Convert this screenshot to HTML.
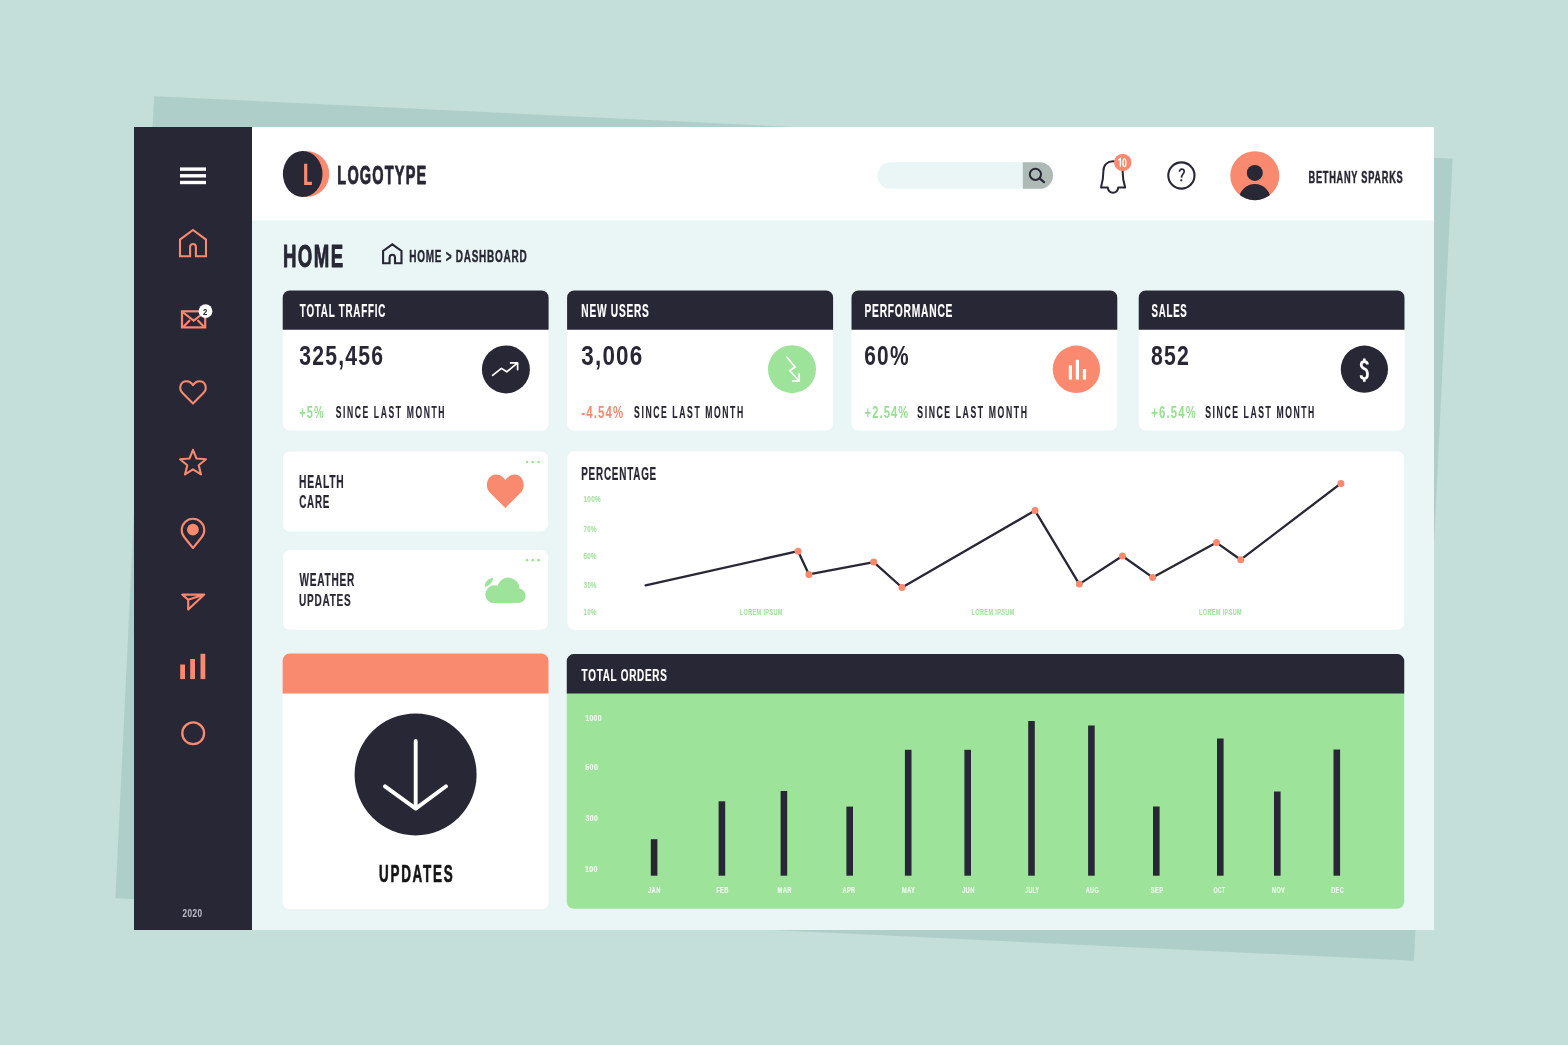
<!DOCTYPE html>
<html><head><meta charset="utf-8"><title>Dashboard</title>
<style>
html,body{margin:0;padding:0;background:#c4ded9;width:1568px;height:1045px;overflow:hidden}
svg{display:block;will-change:transform}
text{font-family:"Liberation Sans",sans-serif}
</style></head><body>
<svg width="1568" height="1045" viewBox="0 0 1568 1045">
<rect width="1568" height="1045" fill="#c4ded9"/>
<rect x="134" y="127" width="1300" height="803" fill="#aecec9" transform="rotate(2.757 784 528.5)"/>
<rect x="134" y="127" width="1300" height="803" fill="#e9f6f5"/>
<rect x="252" y="127" width="1182" height="93.4" fill="#ffffff"/>
<rect x="134" y="127" width="118" height="803" fill="#282735"/>
<rect x="180" y="167.4" width="26" height="3.4" fill="#ffffff"/>
<rect x="180" y="174.1" width="26" height="3.4" fill="#ffffff"/>
<rect x="180" y="180.8" width="26" height="3.4" fill="#ffffff"/>
<path d="M180,256.2 V239.6 L193,230 L206,239.6 V256.2 H195.9 V246.9 A2.9,2.9 0 0 0 190.1,246.9 V256.2 Z" fill="none" stroke="#f9896f" stroke-width="2.1" stroke-linejoin="miter"/>
<rect x="182" y="311.3" width="23.2" height="16.1" fill="none" stroke="#f9896f" stroke-width="2.2"/>
<path d="M182.5,312 L193.7,320.6 L204.8,312 M183.5,326.8 L190,320 M204,326.8 L197.5,320" fill="none" stroke="#f9896f" stroke-width="2.1"/>
<circle cx="205.5" cy="311.2" r="6.9" fill="#ffffff"/>
<text transform="translate(203.050,314.650) scale(0.8039,1)" font-size="9.584" font-weight="bold" letter-spacing="0.508" fill="#282735" stroke="#282735" stroke-width="0.115" stroke-linejoin="round">2</text>
<path d="M193,403.6 L182.6,393 C178.2,388.5 180.4,381.2 186.6,381.2 C189.6,381.2 191.6,383 193,385.2 C194.4,383 196.4,381.2 199.4,381.2 C205.6,381.2 207.8,388.5 203.4,393 Z" fill="none" stroke="#f9896f" stroke-width="2.1" stroke-linejoin="round"/>
<polygon points="193.00,449.80 196.53,458.55 205.93,459.20 198.71,465.25 200.99,474.40 193.00,469.40 185.01,474.40 187.29,465.25 180.07,459.20 189.47,458.55" fill="none" stroke="#f9896f" stroke-width="2.1" stroke-linejoin="round"/>
<path d="M193,548 L184.5,537.5 A11.3,11.3 0 1 1 201.5,537.5 Z" fill="none" stroke="#f9896f" stroke-width="2.1" stroke-linejoin="round"/>
<circle cx="192.9" cy="529.7" r="5.9" fill="#f9896f"/>
<path d="M182.3,594.6 H204.3 L188.2,609.6 V599.8 Z M188.2,599.8 L204.3,594.6" fill="none" stroke="#f9896f" stroke-width="2.1" stroke-linejoin="round"/>
<rect x="180.2" y="664.5" width="4.8" height="14.6" fill="#f9896f"/>
<rect x="190.2" y="659" width="4.8" height="20.1" fill="#f9896f"/>
<rect x="200.5" y="653.8" width="4.8" height="25.3" fill="#f9896f"/>
<circle cx="193.2" cy="733.3" r="10.9" fill="none" stroke="#f9896f" stroke-width="2.3"/>
<text transform="translate(182.450,916.550) scale(0.6999,1)" font-size="11.698" font-weight="bold" letter-spacing="0.712" fill="#b9b9c2" stroke="#b9b9c2" stroke-width="0.140" stroke-linejoin="round">2020</text>
<circle cx="306.3" cy="174" r="23" fill="#f9896f"/>
<ellipse cx="302.7" cy="174" rx="19.8" ry="22.9" fill="#282735"/>
<path d="M304.1,163.8 H307.3 V181.7 H311.9 V184.9 H304.1 Z" fill="#f9896f"/>
<text transform="translate(337.350,183.900) scale(0.5454,1)" font-size="26.621" font-weight="bold" letter-spacing="2.145" fill="#282735" stroke="#282735" stroke-width="0.932" stroke-linejoin="round">LOGOTYPE</text>
<rect x="877.4" y="162.2" width="175.6" height="26.6" rx="13.3" fill="#e9f6f5"/>
<path d="M1022.8,162.2 H1039.7 A13.3,13.3 0 0 1 1039.7,188.8 H1022.8 Z" fill="#aebab5"/>
<circle cx="1035.4" cy="174.3" r="5.6" fill="none" stroke="#282735" stroke-width="2"/>
<path d="M1039.6,178.4 L1044,182.2" stroke="#282735" stroke-width="2.2" stroke-linecap="round"/>
<path d="M1107.8,187.6 H1101 C1102.6,182 1103.4,177 1103.4,171 C1103.4,165 1107.5,161.3 1113,161.3 C1118.5,161.3 1122.6,165 1122.6,171 C1122.6,177 1123.4,182 1125.2,187.6 H1118.2 A5.2,5.2 0 0 1 1107.8,187.6 Z" fill="none" stroke="#282735" stroke-width="2" stroke-linejoin="round"/>
<circle cx="1122.7" cy="162.4" r="8.7" fill="#f9896f"/>
<path d="M1118.3,160.3 L1120.4,158.7 V166.8 M1124.4,158.9 C1122.9,158.9 1122.9,160.2 1122.9,162.8 C1122.9,165.4 1122.9,166.6 1124.4,166.6 C1125.9,166.6 1125.9,165.4 1125.9,162.8 C1125.9,160.2 1125.9,158.9 1124.4,158.9 Z" fill="none" stroke="#ffffff" stroke-width="1.35"/>
<circle cx="1181.4" cy="175.5" r="13.1" fill="none" stroke="#282735" stroke-width="2.1"/>
<path d="M1179.5,171.7 C1179.3,168.4 1184.3,168.2 1184.2,171.5 C1184.1,173.8 1181.6,174.6 1181.5,177.6" fill="none" stroke="#282735" stroke-width="1.7" stroke-linecap="butt"/>
<circle cx="1181.3" cy="180.3" r="1.15" fill="#282735"/>
<clipPath id="av"><circle cx="1254.8" cy="175.7" r="24.5"/></clipPath>
<circle cx="1254.8" cy="175.7" r="24.5" fill="#f9896f"/>
<circle cx="1254.8" cy="172.9" r="8" fill="#282735"/>
<ellipse cx="1254.8" cy="201" rx="16.2" ry="17" fill="#282735" clip-path="url(#av)"/>
<text transform="translate(1308.500,183.350) scale(0.5602,1)" font-size="16.495" font-weight="bold" letter-spacing="1.285" fill="#282735" stroke="#282735" stroke-width="0.495" stroke-linejoin="round">BETHANY SPARKS</text>
<text transform="translate(283.000,266.650) scale(0.5817,1)" font-size="32.027" font-weight="bold" letter-spacing="2.403" fill="#282735" stroke="#282735" stroke-width="0.961" stroke-linejoin="round">HOME</text>
<path d="M383.1,263.3 V251 L392.3,244.4 L401.5,251 V263.3 H395 V257.5 A2.7,2.7 0 0 0 389.6,257.5 V263.3 Z" fill="none" stroke="#282735" stroke-width="2.1" stroke-linejoin="miter"/>
<text transform="translate(409.200,262.050) scale(0.5777,1)" font-size="17.301" font-weight="bold" letter-spacing="1.298" fill="#282735" stroke="#282735" stroke-width="0.433" stroke-linejoin="round">HOME &gt; DASHBOARD</text>
<rect x="282.7" y="290.4" width="265.90" height="140.20" rx="7" fill="#ffffff"/>
<path d="M282.7,329.8 V297.4 A7,7 0 0 1 289.7,290.4 H541.6 A7,7 0 0 1 548.6,297.4 V329.8 Z" fill="#282735"/>
<text transform="translate(299.800,316.650) scale(0.5488,1)" font-size="17.900" font-weight="bold" letter-spacing="1.389" fill="#ffffff" stroke="#ffffff" stroke-width="0.215" stroke-linejoin="round">TOTAL TRAFFIC</text>
<text transform="translate(299.300,365.250) scale(0.7464,1)" font-size="28.387" font-weight="bold" letter-spacing="1.592" fill="#282735">325,456</text>
<text transform="translate(299.300,418.000) scale(0.6630,1)" font-size="16.403" font-weight="bold" letter-spacing="1.719" fill="#96de92">+5%</text>
<text transform="translate(335.650,417.750) scale(0.5350,1)" font-size="16.068" font-weight="bold" letter-spacing="2.983" fill="#282735" stroke="#282735" stroke-width="0.193" stroke-linejoin="round">SINCE LAST MONTH</text>
<rect x="567.1" y="290.4" width="266.00" height="140.20" rx="7" fill="#ffffff"/>
<path d="M567.1,329.8 V297.4 A7,7 0 0 1 574.1,290.4 H826.1 A7,7 0 0 1 833.1,297.4 V329.8 Z" fill="#282735"/>
<text transform="translate(581.300,316.650) scale(0.5669,1)" font-size="17.900" font-weight="bold" letter-spacing="1.344" fill="#ffffff" stroke="#ffffff" stroke-width="0.215" stroke-linejoin="round">NEW USERS</text>
<text transform="translate(581.300,365.250) scale(0.7923,1)" font-size="28.387" font-weight="bold" letter-spacing="1.499" fill="#282735">3,006</text>
<text transform="translate(581.300,418.000) scale(0.6984,1)" font-size="16.403" font-weight="bold" letter-spacing="1.632" fill="#f9896f">-4.54%</text>
<text transform="translate(634.050,417.750) scale(0.5372,1)" font-size="16.068" font-weight="bold" letter-spacing="2.971" fill="#282735" stroke="#282735" stroke-width="0.193" stroke-linejoin="round">SINCE LAST MONTH</text>
<rect x="851.5" y="290.4" width="265.80" height="140.20" rx="7" fill="#ffffff"/>
<path d="M851.5,329.8 V297.4 A7,7 0 0 1 858.5,290.4 H1110.3 A7,7 0 0 1 1117.3,297.4 V329.8 Z" fill="#282735"/>
<text transform="translate(864.500,316.650) scale(0.5726,1)" font-size="17.900" font-weight="bold" letter-spacing="1.331" fill="#ffffff" stroke="#ffffff" stroke-width="0.215" stroke-linejoin="round">PERFORMANCE</text>
<text transform="translate(864.250,365.250) scale(0.7367,1)" font-size="28.387" font-weight="bold" letter-spacing="1.613" fill="#282735">60%</text>
<text transform="translate(864.500,418.000) scale(0.6802,1)" font-size="16.344" font-weight="bold" letter-spacing="1.676" fill="#96de92">+2.54%</text>
<text transform="translate(917.250,417.750) scale(0.5397,1)" font-size="16.068" font-weight="bold" letter-spacing="2.957" fill="#282735" stroke="#282735" stroke-width="0.193" stroke-linejoin="round">SINCE LAST MONTH</text>
<rect x="1138.7" y="290.4" width="265.80" height="140.20" rx="7" fill="#ffffff"/>
<path d="M1138.7,329.8 V297.4 A7,7 0 0 1 1145.7,290.4 H1397.5 A7,7 0 0 1 1404.5,297.4 V329.8 Z" fill="#282735"/>
<text transform="translate(1151.550,316.650) scale(0.5403,1)" font-size="17.900" font-weight="bold" letter-spacing="1.410" fill="#ffffff" stroke="#ffffff" stroke-width="0.215" stroke-linejoin="round">SALES</text>
<text transform="translate(1151.050,365.250) scale(0.7469,1)" font-size="28.387" font-weight="bold" letter-spacing="1.591" fill="#282735">852</text>
<text transform="translate(1151.300,418.000) scale(0.6948,1)" font-size="16.344" font-weight="bold" letter-spacing="1.641" fill="#96de92">+6.54%</text>
<text transform="translate(1205.250,417.750) scale(0.5366,1)" font-size="16.068" font-weight="bold" letter-spacing="2.975" fill="#282735" stroke="#282735" stroke-width="0.193" stroke-linejoin="round">SINCE LAST MONTH</text>
<circle cx="505.9" cy="369.4" r="24" fill="#282735"/>
<path d="M492.6,375.3 L501.4,368.4 L506.8,371.8 L517.3,363.2 M510.6,362.9 H517.6 V369.6" fill="none" stroke="#ffffff" stroke-width="1.7" stroke-linecap="round" stroke-linejoin="round"/>
<circle cx="792" cy="369.2" r="24" fill="#9de39a"/>
<path d="M786.9,357.2 L795.1,367 L789.8,370.7 L799,380.8 M792.6,380.8 H799.2 V373.8" fill="none" stroke="#ffffff" stroke-width="1.7" stroke-linecap="round" stroke-linejoin="miter"/>
<circle cx="1076.4" cy="369.3" r="23.7" fill="#f9896f"/>
<rect x="1068.8" y="365.3" width="3.2" height="14.3" fill="#ffffff"/>
<rect x="1075.8" y="359.8" width="3.2" height="19.8" fill="#ffffff"/>
<rect x="1082.9" y="369" width="3.2" height="10.6" fill="#ffffff"/>
<circle cx="1364.4" cy="369.2" r="23.6" fill="#282735"/>
<path d="M1367.4,364.6 C1367.4,362.7 1366.1,361.7 1364.3,361.7 C1362.4,361.7 1361.2,362.9 1361.2,364.7 C1361.2,367.4 1363.6,368.3 1364.6,368.8 C1366.3,369.6 1367.5,370.9 1367.5,374.3 C1367.5,377.1 1366.2,378.5 1364.3,378.5 C1362.4,378.5 1361.1,377.3 1361.1,375.3 M1364.3,358.6 V361.8 M1364.3,378.4 V381.7" fill="none" stroke="#ffffff" stroke-width="2.7"/>
<rect x="283" y="451.5" width="265.00" height="80.00" rx="7" fill="#ffffff"/>
<rect x="283" y="550.1" width="265.00" height="79.70" rx="7" fill="#ffffff"/>
<text transform="translate(299.000,487.900) scale(0.5759,1)" font-size="17.870" font-weight="bold" letter-spacing="1.302" fill="#282735" stroke="#282735" stroke-width="0.214" stroke-linejoin="round">HEALTH</text>
<text transform="translate(299.250,508.150) scale(0.5643,1)" font-size="17.477" font-weight="bold" letter-spacing="1.319" fill="#282735" stroke="#282735" stroke-width="0.210" stroke-linejoin="round">CARE</text>
<text transform="translate(299.500,586.250) scale(0.5702,1)" font-size="17.727" font-weight="bold" letter-spacing="1.305" fill="#282735" stroke="#282735" stroke-width="0.213" stroke-linejoin="round">WEATHER</text>
<text transform="translate(299.000,606.450) scale(0.6059,1)" font-size="16.631" font-weight="bold" letter-spacing="1.168" fill="#282735" stroke="#282735" stroke-width="0.200" stroke-linejoin="round">UPDATES</text>
<circle cx="527.0" cy="462.0" r="1.35" fill="#9de39a"/>
<circle cx="532.8" cy="462.0" r="1.35" fill="#9de39a"/>
<circle cx="538.7" cy="462.0" r="1.35" fill="#9de39a"/>
<circle cx="527.0" cy="560.2" r="1.35" fill="#9de39a"/>
<circle cx="532.8" cy="560.2" r="1.35" fill="#9de39a"/>
<circle cx="538.7" cy="560.2" r="1.35" fill="#9de39a"/>
<path d="M505.3,508 L489.5,492.2 C484.5,487.2 486.8,474.6 496,474.6 C500.4,474.6 503.6,477.4 505.3,480.2 C507,477.4 510.2,474.6 514.6,474.6 C523.8,474.6 526.1,487.2 521.1,492.2 Z" fill="#f9896f"/>
<path d="M491.5,603.1 H518.5 A7.3,7.3 0 0 0 519.5,588.6 A11.2,11.2 0 0 0 497.5,585.8 A8.6,8.6 0 0 0 491.5,603.1 Z" fill="#9de39a"/>
<path d="M484.8,587.2 C484.8,582 487.8,578.6 493.2,577.8 C492.8,581.6 490,585.6 484.8,587.2 Z" fill="#9de39a"/>
<rect x="567.4" y="451.3" width="836.80" height="178.40" rx="7" fill="#ffffff"/>
<text transform="translate(581.200,479.700) scale(0.5405,1)" font-size="18.323" font-weight="bold" letter-spacing="1.443" fill="#282735" stroke="#282735" stroke-width="0.220" stroke-linejoin="round">PERCENTAGE</text>
<text transform="translate(583.450,502.450) scale(0.7192,1)" font-size="8.739" font-weight="bold" letter-spacing="0.517" fill="#a4e2a1" stroke="#a4e2a1" stroke-width="0.105" stroke-linejoin="round">100%</text>
<text transform="translate(583.450,531.650) scale(0.6974,1)" font-size="8.879" font-weight="bold" letter-spacing="0.542" fill="#a4e2a1" stroke="#a4e2a1" stroke-width="0.107" stroke-linejoin="round">70%</text>
<text transform="translate(583.450,559.250) scale(0.7048,1)" font-size="8.739" font-weight="bold" letter-spacing="0.528" fill="#a4e2a1" stroke="#a4e2a1" stroke-width="0.105" stroke-linejoin="round">50%</text>
<text transform="translate(583.700,587.550) scale(0.6758,1)" font-size="8.879" font-weight="bold" letter-spacing="0.559" fill="#a4e2a1" stroke="#a4e2a1" stroke-width="0.107" stroke-linejoin="round">30%</text>
<text transform="translate(583.450,615.150) scale(0.7019,1)" font-size="8.739" font-weight="bold" letter-spacing="0.530" fill="#a4e2a1" stroke="#a4e2a1" stroke-width="0.105" stroke-linejoin="round">10%</text>
<text transform="translate(739.750,615.150) scale(0.6213,1)" font-size="8.879" font-weight="bold" letter-spacing="0.608" fill="#a4e2a1" stroke="#a4e2a1" stroke-width="0.107" stroke-linejoin="round">LOREM IPSUM</text>
<text transform="translate(971.550,615.150) scale(0.6230,1)" font-size="8.879" font-weight="bold" letter-spacing="0.607" fill="#a4e2a1" stroke="#a4e2a1" stroke-width="0.107" stroke-linejoin="round">LOREM IPSUM</text>
<text transform="translate(1199.050,615.150) scale(0.6205,1)" font-size="8.879" font-weight="bold" letter-spacing="0.609" fill="#a4e2a1" stroke="#a4e2a1" stroke-width="0.107" stroke-linejoin="round">LOREM IPSUM</text>
<polyline points="645.6,585.3 798.1,551.2 808.9,574.4 873.7,562.1 902.0,587.5 1035.0,510.6 1079.3,584.1 1122.4,556.0 1152.6,577.4 1216.5,542.6 1240.7,559.7 1340.9,483.4" fill="none" stroke="#282735" stroke-width="2.3" stroke-linejoin="round" stroke-linecap="round"/>
<circle cx="798.1" cy="551.2" r="3.5" fill="#f9896f"/>
<circle cx="808.9" cy="574.4" r="3.5" fill="#f9896f"/>
<circle cx="873.7" cy="562.1" r="3.5" fill="#f9896f"/>
<circle cx="902.0" cy="587.5" r="3.5" fill="#f9896f"/>
<circle cx="1035.0" cy="510.6" r="3.5" fill="#f9896f"/>
<circle cx="1079.3" cy="584.1" r="3.5" fill="#f9896f"/>
<circle cx="1122.4" cy="556.0" r="3.5" fill="#f9896f"/>
<circle cx="1152.6" cy="577.4" r="3.5" fill="#f9896f"/>
<circle cx="1216.5" cy="542.6" r="3.5" fill="#f9896f"/>
<circle cx="1240.7" cy="559.7" r="3.5" fill="#f9896f"/>
<circle cx="1340.9" cy="483.4" r="3.5" fill="#f9896f"/>
<rect x="282.6" y="653.6" width="265.90" height="255.60" rx="7" fill="#ffffff"/>
<path d="M282.6,693.6 V660.6 A7,7 0 0 1 289.6,653.6 H541.5 A7,7 0 0 1 548.5,660.6 V693.6 Z" fill="#f9896f"/>
<circle cx="415.6" cy="774.4" r="61" fill="#282735"/>
<path d="M415.7,741 V808.6 M385,786.3 L415.7,808.6 L446,786.3" fill="none" stroke="#ffffff" stroke-width="3.9" stroke-linecap="round" stroke-linejoin="round"/>
<text transform="translate(379.000,882.350) scale(0.5587,1)" font-size="24.055" font-weight="bold" letter-spacing="3.133" fill="#151515" stroke="#151515" stroke-width="0.722" stroke-linejoin="round">UPDATES</text>
<rect x="566.8" y="654.1" width="837.40" height="254.70" rx="7" fill="#9de39a"/>
<path d="M566.8,693.4 V661.1 A7,7 0 0 1 573.8,654.1 H1397.2 A7,7 0 0 1 1404.2,661.1 V693.4 Z" fill="#282735"/>
<text transform="translate(581.600,680.950) scale(0.5726,1)" font-size="17.336" font-weight="bold" letter-spacing="1.289" fill="#ffffff" stroke="#ffffff" stroke-width="0.208" stroke-linejoin="round">TOTAL ORDERS</text>
<text transform="translate(585.250,721.200) scale(0.7317,1)" font-size="9.302" font-weight="bold" letter-spacing="0.541" fill="#f4fbf3" stroke="#f4fbf3" stroke-width="0.112" stroke-linejoin="round">1000</text>
<text transform="translate(585.250,769.900) scale(0.7587,1)" font-size="9.302" font-weight="bold" letter-spacing="0.522" fill="#f4fbf3" stroke="#f4fbf3" stroke-width="0.112" stroke-linejoin="round">500</text>
<text transform="translate(585.500,821.200) scale(0.7387,1)" font-size="9.302" font-weight="bold" letter-spacing="0.536" fill="#f4fbf3" stroke="#f4fbf3" stroke-width="0.112" stroke-linejoin="round">300</text>
<text transform="translate(585.000,871.800) scale(0.7664,1)" font-size="9.161" font-weight="bold" letter-spacing="0.509" fill="#f4fbf3" stroke="#f4fbf3" stroke-width="0.110" stroke-linejoin="round">100</text>
<rect x="650.8" y="839.2" width="6.6" height="36.5" fill="#282735"/>
<rect x="718.6" y="801.3" width="6.6" height="74.4" fill="#282735"/>
<rect x="780.6" y="791.0" width="6.6" height="84.7" fill="#282735"/>
<rect x="846.4" y="806.6" width="6.6" height="69.1" fill="#282735"/>
<rect x="904.9" y="749.8" width="6.6" height="125.9" fill="#282735"/>
<rect x="964.4" y="749.8" width="6.6" height="125.9" fill="#282735"/>
<rect x="1028.2" y="721.0" width="6.6" height="154.7" fill="#282735"/>
<rect x="1088.1" y="725.5" width="6.6" height="150.2" fill="#282735"/>
<rect x="1153.0" y="806.5" width="6.6" height="69.2" fill="#282735"/>
<rect x="1217.0" y="738.5" width="6.6" height="137.2" fill="#282735"/>
<rect x="1274.0" y="791.5" width="6.6" height="84.2" fill="#282735"/>
<rect x="1333.5" y="749.5" width="6.6" height="126.2" fill="#282735"/>
<text transform="translate(648.000,893.450) scale(0.6585,1)" font-size="8.863" font-weight="bold" letter-spacing="0.565" fill="#f4fbf3" stroke="#f4fbf3" stroke-width="0.106" stroke-linejoin="round">JAN</text>
<text transform="translate(716.150,893.450) scale(0.6539,1)" font-size="8.863" font-weight="bold" letter-spacing="0.569" fill="#f4fbf3" stroke="#f4fbf3" stroke-width="0.106" stroke-linejoin="round">FEB</text>
<text transform="translate(777.500,893.450) scale(0.6531,1)" font-size="8.863" font-weight="bold" letter-spacing="0.570" fill="#f4fbf3" stroke="#f4fbf3" stroke-width="0.106" stroke-linejoin="round">MAR</text>
<text transform="translate(842.450,893.450) scale(0.6380,1)" font-size="8.863" font-weight="bold" letter-spacing="0.583" fill="#f4fbf3" stroke="#f4fbf3" stroke-width="0.106" stroke-linejoin="round">APR</text>
<text transform="translate(901.700,893.450) scale(0.6658,1)" font-size="8.863" font-weight="bold" letter-spacing="0.559" fill="#f4fbf3" stroke="#f4fbf3" stroke-width="0.106" stroke-linejoin="round">MAY</text>
<text transform="translate(962.000,893.450) scale(0.6585,1)" font-size="8.863" font-weight="bold" letter-spacing="0.565" fill="#f4fbf3" stroke="#f4fbf3" stroke-width="0.106" stroke-linejoin="round">JUN</text>
<text transform="translate(1025.250,893.450) scale(0.5708,1)" font-size="8.863" font-weight="bold" letter-spacing="0.652" fill="#f4fbf3" stroke="#f4fbf3" stroke-width="0.106" stroke-linejoin="round">JULY</text>
<text transform="translate(1085.750,893.450) scale(0.6260,1)" font-size="8.739" font-weight="bold" letter-spacing="0.594" fill="#f4fbf3" stroke="#f4fbf3" stroke-width="0.105" stroke-linejoin="round">AUG</text>
<text transform="translate(1150.750,893.450) scale(0.6594,1)" font-size="8.739" font-weight="bold" letter-spacing="0.564" fill="#f4fbf3" stroke="#f4fbf3" stroke-width="0.105" stroke-linejoin="round">SEP</text>
<text transform="translate(1213.500,893.450) scale(0.5933,1)" font-size="8.739" font-weight="bold" letter-spacing="0.627" fill="#f4fbf3" stroke="#f4fbf3" stroke-width="0.105" stroke-linejoin="round">OCT</text>
<text transform="translate(1272.000,893.200) scale(0.6380,1)" font-size="8.739" font-weight="bold" letter-spacing="0.583" fill="#f4fbf3" stroke="#f4fbf3" stroke-width="0.105" stroke-linejoin="round">NOV</text>
<text transform="translate(1331.250,893.450) scale(0.6341,1)" font-size="8.739" font-weight="bold" letter-spacing="0.587" fill="#f4fbf3" stroke="#f4fbf3" stroke-width="0.105" stroke-linejoin="round">DEC</text>
</svg>
</body></html>
